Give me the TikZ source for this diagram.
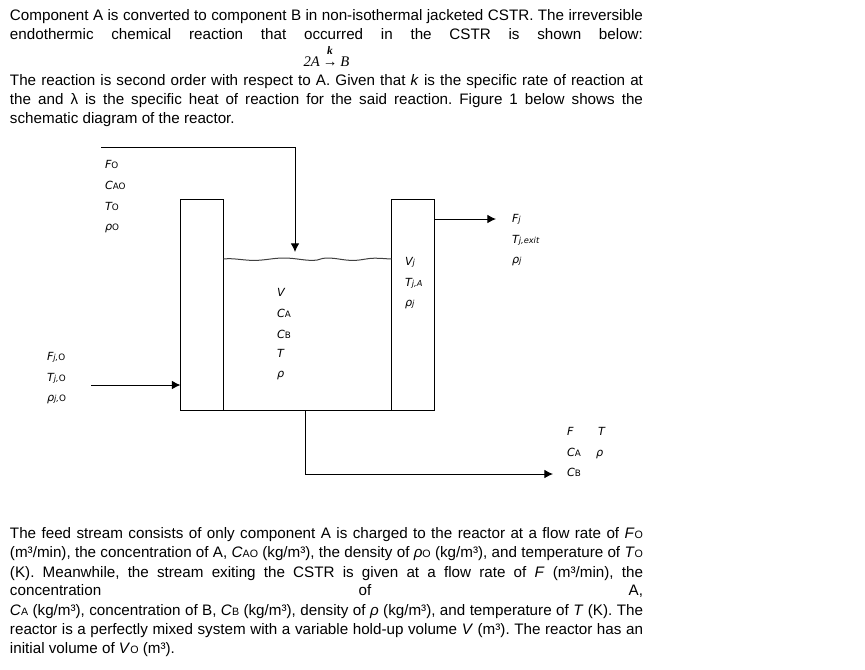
\documentclass[tikz,border=0pt]{standalone}
\usepackage{fontspec}
\setmainfont{Liberation Sans}
\newfontfamily\lblfont{DejaVu Sans}
\newfontfamily\eqfont{Liberation Serif}
\usetikzlibrary{arrows.meta}
\newcommand{\smo}[1]{{\fontsize{8}{9}\selectfont #1}}
\newcommand{\lsub}[1]{{\fontsize{6.6}{8}\selectfont\upshape #1}}
\newcommand{\lsubi}[1]{{\fontsize{6.2}{8}\selectfont\itshape #1}}
\tikzset{
  bodytext/.style={anchor=base west,inner sep=0pt,outer sep=0pt,font=\fontsize{11.4}{13}\selectfont\frenchspacing},
  lbl/.style={anchor=base west,inner sep=0pt,outer sep=0pt,font=\lblfont\fontsize{8.4}{10}\selectfont\itshape},
  eqtext/.style={anchor=base,inner sep=0pt,outer sep=0pt,font=\eqfont\fontsize{11}{13}\selectfont\itshape},
  eqtop/.style={anchor=base,inner sep=0pt,outer sep=0pt,font=\eqfont\fontsize{8.5}{10}\selectfont\itshape\bfseries},
  jacket/.style={draw=black,line width=0.75pt,minimum width=32.25pt,minimum height=158.25pt,inner sep=0pt,outer sep=0pt},
  pipe/.style={draw=black,line width=0.75pt},
  flow/.style={pipe,-{Latex[length=6.5pt,width=6.5pt]}}
}
\newcommand{\jl}[3]{\node[bodytext] (#1) at (10,#2) {\hbox to 474.75pt{#3}};}
\begin{document}
\begin{tikzpicture}[x=0.75pt,y=-0.75pt]
\useasboundingbox[fill=white] (0,0) rectangle (865,669);
% top text
\jl{ta}{20}{Component A is converted to component B in non-isothermal jacketed CSTR. The irreversible}
\jl{tb}{39}{endothermic chemical reaction that occurred in the CSTR is shown below:}
\node[eqtext] (eq) at (326.5,66) {2A\kern2.2pt→\kern2.2pt B};
\node[eqtop] (eqk) at (330,54) {k};
\jl{tc}{85}{The reaction is second order with respect to A. Given that \textit{k} is the specific rate of reaction at}
\jl{td}{104}{the and λ is the specific heat of reaction for the said reaction. Figure 1 below shows the}
\node[bodytext] (te) at (10,123) {schematic diagram of the reactor.};
% vessel
\node[jacket] (jl) at (202,304.5) {};
\node[jacket] (jr) at (413,304.5) {};
\draw[pipe] (jl.south east) -- (jr.south west);
\draw[draw=black!75,line width=0.75pt] (jl.east |- 0,259)
  .. controls (234,257.8) and (244,260.6) .. (255,260.4)
  .. controls (266,260.2) and (273,258) .. (284,258)
  .. controls (295,258) and (303,260.4) .. (313,260.4)
  .. controls (320,260.4) and (320,258) .. (327,258)
  .. controls (337,258) and (343,260.4) .. (353,260.4)
  .. controls (362,260.4) and (366,258.2) .. (375,258.2)
  .. controls (381,258.2) and (386,258.8) .. (jr.west |- 0,259);
% connectors
\coordinate (feedin) at (101,147.5);
\coordinate (feedbend) at (295,147.5);
\coordinate (feedend) at (295,252);
\draw[flow] (feedin) -- (feedbend) -- (feedend);
\coordinate (jin) at (91,385);
\draw[flow] (jin) -- (jin -| jl.west);
\coordinate (jout) at (496,219);
\draw[flow] (jout -| jr.east) -- (jout);
\coordinate (prodtop) at (305.5,410);
\coordinate (prodbend) at (305.5,474);
\coordinate (prodend) at (553,474);
\draw[flow] (prodtop) -- (prodbend) -- (prodend);
% feed labels
\node[lbl] (a1) at (105,168.5) {F\lsub{O}};
\node[lbl] (a2) at (105,189.5) {C\lsub{AO}};
\node[lbl] (a3) at (105,210.5) {T\lsub{O}};
\node[lbl] (a4) at (105,230.5) {ρ\lsub{O}};
% jacket inlet
\node[lbl] (b1) at (47,360.5) {F\lsubi{j,}\lsub{O}};
\node[lbl] (b2) at (47,381.5) {T\lsubi{j,}\lsub{O}};
\node[lbl] (b3) at (47,401.5) {ρ\lsubi{j,}\lsub{O}};
% reactor
\node[lbl] (c1) at (277,296.5) {V};
\node[lbl] (c2) at (277,317.5) {C\lsub{A}};
\node[lbl] (c3) at (277,338.5) {C\lsub{B}};
\node[lbl] (c4) at (277,357.5) {T};
\node[lbl] (c5) at (277,377.5) {ρ};
% jacket
\node[lbl] (d1) at (405,265.5) {V\lsubi{j}};
\node[lbl] (d2) at (405,286.5) {T\lsubi{j,A}};
\node[lbl] (d3) at (405,306.5) {ρ\lsubi{j}};
% jacket outlet
\node[lbl] (e1) at (512,222.5) {F\lsubi{j}};
\node[lbl] (e2) at (512,243.5) {T\lsubi{j,exit}};
\node[lbl] (e3) at (512,263.5) {ρ\lsubi{j}};
% product
\node[lbl] (f1) at (567,435.5) {F};
\node[lbl] (f2) at (567,456.5) {C\lsub{A}};
\node[lbl] (f3) at (567,476.5) {C\lsub{B}};
\node[lbl] (f4) at (598,435.5) {T};
\node[lbl] (f5) at (596,456.5) {ρ};
% bottom text
\jl{ba}{538}{The feed stream consists of only component A is charged to the reactor at a flow rate of \textit{F}\smo{O}}
\jl{bb}{557.5}{(m³/min), the concentration of A, \textit{C}\smo{AO} (kg/m³), the density of \textit{ρ}\smo{O} (kg/m³), and temperature of \textit{T}\smo{O}}
\jl{bc}{577}{(K). Meanwhile, the stream exiting the CSTR is given at a flow rate of \textit{F} (m³/min), the}
\jl{bd}{595.5}{concentration\hfill of\hfill A,}
\jl{be}{615}{\textit{C}\smo{A} (kg/m³), concentration of B, \textit{C}\smo{B} (kg/m³), density of \textit{ρ} (kg/m³), and temperature of \textit{T} (K). The}
\jl{bf}{634}{reactor is a perfectly mixed system with a variable hold-up volume \textit{V} (m³). The reactor has an}
\node[bodytext] (bg) at (10,653) {initial volume of \textit{V}\smo{O} (m³).};
\end{tikzpicture}
\end{document}
